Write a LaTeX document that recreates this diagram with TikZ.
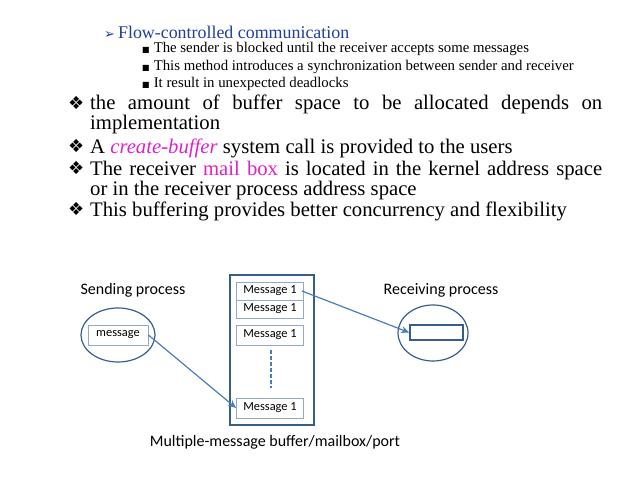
\documentclass[tikz,border=0pt]{standalone}
\usepackage{fontspec}
\setmainfont{Liberation Serif}
\newfontfamily\dv{DejaVu Sans}
\newfontfamily\cb{Carlito}
\usetikzlibrary{shapes.geometric,arrows.meta}
\definecolor{dk}{HTML}{385D8A}
\definecolor{lt}{HTML}{95A8C8}
\definecolor{ar}{HTML}{4A7EBB}
\definecolor{mg}{HTML}{E020C8}
\definecolor{hd}{HTML}{1F3F9F}
\begin{document}
\begin{tikzpicture}[x=1pt,y=-1pt,
  msg/.style={draw=lt,thick,minimum width=67pt,minimum height=18pt,font=\cb\fontsize{12.4}{13}\selectfont,inner sep=0pt},
  lab/.style={font=\cb\fontsize{16}{18}\selectfont},
  sub/.style={anchor=west,inner sep=0pt,font=\fontsize{14.8}{16}\selectfont},
  bul/.style={anchor=north west,font=\fontsize{20.7}{19.5}\selectfont,inner sep=0pt},
  arr/.style={draw=ar,line width=1.2pt,-{Stealth[length=8pt,width=7pt]}}]
\useasboundingbox (0,0) rectangle (638,478);
\node[anchor=west,inner sep=0pt,text=hd,font=\fontsize{17.9}{19}\selectfont] (h) at (104,32) {{\dv\fontsize{13}{13}\selectfont ➢}\,Flow-controlled communication};
\node[sub] (s1) at (142,49) {{\dv\fontsize{8}{8}\selectfont ■}\hspace{4pt}The sender is blocked until the receiver accepts some messages};
\node[sub] (s2) at (142,67) {{\dv\fontsize{8}{8}\selectfont ■}\hspace{4pt}This method introduces a synchronization between sender and receiver};
\node[sub] (s3) at (142,84) {{\dv\fontsize{8}{8}\selectfont ■}\hspace{4pt}It result in unexpected deadlocks};
\foreach \y in {96,139,161,202} \node[anchor=north west,inner sep=0pt,font=\dv\fontsize{18}{18}\selectfont] at (68,\y) {❖};
\node[bul,text width=512pt,align=justify] (b1) at (90,95) {the amount of buffer space to be allocated depends on\linebreak implementation};
\node[bul] (b2) at (90,139) {A \textcolor{mg}{\textit{create-buffer}} system call is provided to the users};
\node[bul,text width=512pt,align=justify] (b3) at (90,161) {The receiver \textcolor{mg}{mail box} is located in the kernel address space\linebreak or in the receiver process address space};
\node[bul] (b4) at (90,202) {This buffering provides better concurrency and flexibility};
\node[lab] (sp) at (133,290) {Sending process};
\node[lab] (rp) at (441,290) {Receiving process};
\node[draw=dk,line width=1.2pt,ellipse,minimum width=74pt,minimum height=54pt] (le) at (118,335) {};
\node[msg,minimum width=60pt,minimum height=20pt] (m0) at (118,335) {message};
\node[draw=dk,line width=1.5pt,minimum width=84pt,minimum height=150pt] (buf) at (272,350) {};
\node[msg] (m1) at (270,291) {Message 1};
\node[msg] (m2) at (270,309) {Message 1};
\node[msg,minimum height=20pt] (m3) at (270,335) {Message 1};
\node[msg,minimum height=20pt] (m4) at (270,408) {Message 1};
\coordinate (d1) at (271,350); \coordinate (d2) at (271,388);
\draw[ar,line width=1.3pt,dash pattern=on 4pt off 2pt] (d1) -- (d2);
\node[draw=dk,line width=1.2pt,ellipse,minimum width=70pt,minimum height=56pt] (re) at (433,333) {};
\node[draw=dk,line width=1.8pt,minimum width=53pt,minimum height=15pt,inner sep=0pt] (rb) at (436.5,332.5) {};
\draw[arr] (m0.east) -- (m4.west);
\draw[arr] ([xshift=-2pt]m1.east) -- (rb.west);
\node[lab] (cap) at (275,442) {Multiple-message buffer/mailbox/port};
\end{tikzpicture}
\end{document}
